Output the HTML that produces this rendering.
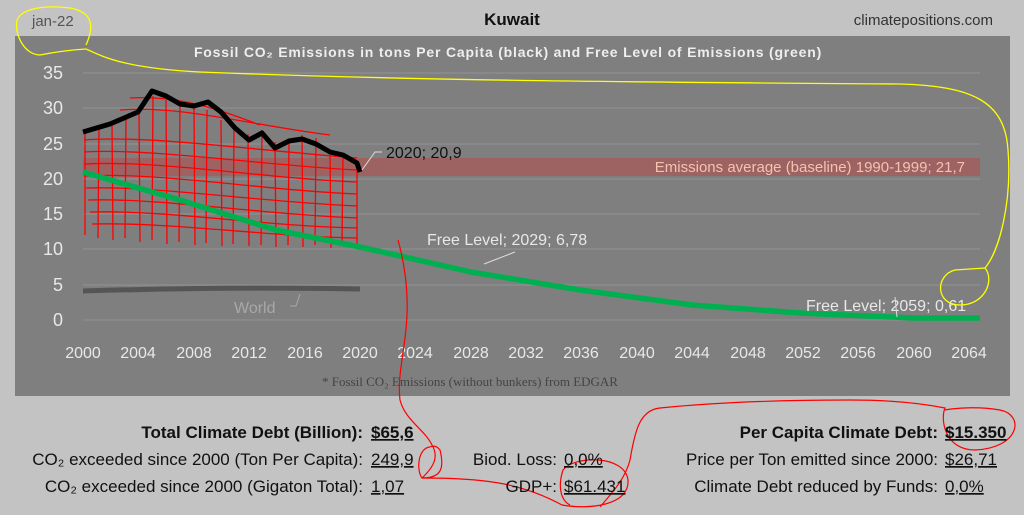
<!DOCTYPE html>
<html><head><meta charset="utf-8"><style>
body{margin:0;width:1024px;height:515px;background:#c3c3c3;overflow:hidden;font-family:"Liberation Sans",sans-serif}
svg{position:absolute;left:0;top:0}
</style></head><body>
<svg width="1024" height="515" viewBox="0 0 1024 515" xmlns="http://www.w3.org/2000/svg">
<rect x="0" y="0" width="1024" height="515" fill="#c3c3c3"/>
<rect x="15" y="36" width="995" height="360" fill="#7f7f7f"/>
<text x="32" y="26" font-size="15" fill="#555">jan-22</text>
<text x="512" y="25" font-size="17" font-weight="bold" text-anchor="middle" fill="#111">Kuwait</text>
<text x="993" y="25" font-size="15" text-anchor="end" fill="#333">climatepositions.com</text>
<text x="508" y="57" font-size="14" font-weight="bold" text-anchor="middle" fill="#eee" letter-spacing="0.8">Fossil CO₂ Emissions in tons Per Capita (black) and Free Level of Emissions (green)</text>
<g stroke="#939393" stroke-width="1">
<line x1="83" y1="320" x2="980" y2="320"/><line x1="83" y1="285" x2="980" y2="285"/><line x1="83" y1="249" x2="980" y2="249"/><line x1="83" y1="214" x2="980" y2="214"/><line x1="83" y1="179" x2="980" y2="179"/><line x1="83" y1="144" x2="980" y2="144"/><line x1="83" y1="108" x2="980" y2="108"/><line x1="83" y1="73" x2="980" y2="73"/>
</g>
<g font-size="18" fill="#e8e8e8" text-anchor="end">
<text x="63" y="326">0</text><text x="63" y="291">5</text><text x="63" y="255">10</text><text x="63" y="220">15</text><text x="63" y="185">20</text><text x="63" y="150">25</text><text x="63" y="114">30</text><text x="63" y="79">35</text>
</g>
<g font-size="16" fill="#e8e8e8" text-anchor="middle">
<text x="83" y="358">2000</text><text x="138" y="358">2004</text><text x="194" y="358">2008</text><text x="249" y="358">2012</text><text x="305" y="358">2016</text><text x="360" y="358">2020</text><text x="415" y="358">2024</text><text x="471" y="358">2028</text><text x="526" y="358">2032</text><text x="581" y="358">2036</text><text x="637" y="358">2040</text><text x="692" y="358">2044</text><text x="748" y="358">2048</text><text x="803" y="358">2052</text><text x="858" y="358">2056</text><text x="914" y="358">2060</text><text x="969" y="358">2064</text>
</g>
<text x="470" y="386" font-size="13" font-family="Liberation Serif" fill="#444" text-anchor="middle">* Fossil CO₂ Emissions (without bunkers) from EDGAR</text>
<rect x="83" y="158" width="897" height="18" fill="#b05050" opacity="0.6"/>
<text x="965" y="172" font-size="15" fill="#f3c3b0" text-anchor="end">Emissions average (baseline) 1990-1999; 21,7</text>
<path d="M83,291 C150,289 250,287 360,289" stroke="#555" stroke-width="5" fill="none"/>
<text x="234" y="313" font-size="16" fill="#a8a8a8">World</text>
<path d="M290,306 L296,306 L300,294" stroke="#a8a8a8" fill="none"/>
<g stroke="#ff0000" stroke-width="1.3" fill="none">
<path d="M85,132 L85,235 M99,128 L98,238 M112,124 L113,240 M126,118 L125,238 M139,110 L140,242 M153,96 L152,240 M166,100 L167,244 M180,104 L179,242 M194,106 L195,245 M207,110 L206,243 M221,120 L222,246 M234,130 L233,244 M248,134 L249,246 M262,130 L261,245 M275,142 L276,247 M289,140 L288,245 M302,135 L303,247 M316,138 L315,245 M330,150 L331,248 M343,155 L342,246 M357,165 L357,246"/>
<path d="M84,140 C150,135 250,150 357,158 M84,152 C150,148 260,165 357,170 M84,164 C160,160 260,178 357,182 M84,176 C160,172 260,190 357,194 M86,188 C160,186 260,202 357,206 M88,200 C160,198 260,214 357,218 M90,212 C170,210 260,226 357,228 M92,224 C170,222 260,236 357,238 M120,110 C180,105 250,125 330,135 M130,98 C180,95 220,110 260,125"/>
</g>
<path d="M83,132 L110,124 L138,112 L152,91 L166,96 L180,104 L194,106 L208,102 L221,112 L235,128 L249,140 L262,133 L275,148 L289,141 L302,139 L316,144 L330,152 L343,155 L357,163 L360,172" stroke="#000" stroke-width="5" fill="none" stroke-linejoin="round"/>
<path d="M362,170 L375,152 L382,152" stroke="#ddd" stroke-width="1" fill="none"/>
<text x="386" y="158" font-size="16" fill="#111">2020; 20,9</text>
<path d="M83,172 L180,200 L276,230 L360,247 L471,272 L580,290 L692,305 L800,313 L914,318 L980,318" stroke="#00b050" stroke-width="5.5" fill="none" stroke-linejoin="round"/>
<text x="427" y="245" font-size="16" fill="#e8e8e8">Free Level; 2029; 6,78</text>
<path d="M484,264 L515,252" stroke="#ddd"/>
<text x="806" y="311" font-size="16" fill="#e8e8e8">Free Level; 2059; 0,61</text>
<path d="M897,317 L895,297" stroke="#ddd"/>
<g stroke="#ffff00" stroke-width="1.3" fill="none">
<path d="M86,45 C95,25 92,12 70,8 C45,5 22,8 17,20 C14,35 25,55 40,55 C55,52 70,50 86,49"/>
<path d="M86,49 C100,55 120,68 200,72 C400,80 600,82 900,84 C970,86 1005,100 1008,150 C1012,200 1000,250 985,268 L955,270 C935,275 935,305 960,305 C985,305 995,280 985,268"/>
</g>
<g stroke="#ff0000" stroke-width="1.2" fill="none">
<path d="M398,240 C420,320 395,360 400,400 C405,420 425,430 432,445 C438,455 436,465 422,478"/>
<path d="M430,447 C418,448 416,470 422,478 C440,478 445,470 440,450 C436,445 432,446 430,447"/>
<path d="M422,478 C480,478 520,482 562,505 C590,510 630,505 628,480 C625,455 575,455 563,470 C558,485 560,500 570,505"/>
<path d="M600,507 C610,495 625,480 630,460 C635,430 640,410 660,408 C720,402 780,400 850,400 C900,400 930,405 945,408 C940,420 945,450 975,450 C1020,448 1025,415 1000,410 C970,405 945,410 945,410"/>
</g>
<g font-size="17" fill="#111" font-family="Liberation Sans Narrow, Liberation Sans, sans-serif">
<text x="363" y="438" text-anchor="end" font-weight="bold">Total Climate Debt (Billion):</text>
<text x="371" y="438" font-weight="bold" text-decoration="underline">$65,6</text>
<text x="363" y="465" text-anchor="end">CO₂ exceeded since 2000 (Ton Per Capita):</text>
<text x="371" y="465" text-decoration="underline">249,9</text>
<text x="363" y="492" text-anchor="end">CO₂ exceeded since 2000 (Gigaton Total):</text>
<text x="371" y="492" text-decoration="underline">1,07</text>
<text x="557" y="465" text-anchor="end">Biod. Loss:</text>
<text x="564" y="465" text-decoration="underline">0,0%</text>
<text x="557" y="492" text-anchor="end">GDP+:</text>
<text x="564" y="492" text-decoration="underline">$61.431</text>
<text x="938" y="438" text-anchor="end" font-weight="bold">Per Capita Climate Debt:</text>
<text x="945" y="438" font-weight="bold" text-decoration="underline">$15.350</text>
<text x="938" y="465" text-anchor="end">Price per Ton emitted since 2000:</text>
<text x="945" y="465" text-decoration="underline">$26,71</text>
<text x="938" y="492" text-anchor="end">Climate Debt reduced by Funds:</text>
<text x="945" y="492" text-decoration="underline">0,0%</text>
</g>
</svg>
</body></html>
